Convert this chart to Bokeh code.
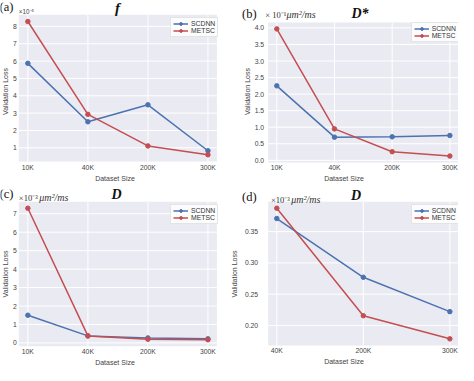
from bokeh.plotting import figure
from bokeh.models import Range1d, FixedTicker, Label, NumeralTickFormatter
from bokeh.layouts import gridplot
from bokeh.embed import file_html
from bokeh.resources import INLINE

# ---------------- data ----------------
sizes_4 = ["10K", "40K", "200K", "300K"]
sizes_3 = ["40K", "200K", "300K"]

f_scdnn = [5.87, 2.50, 3.48, 0.83]
f_metsc = [8.28, 2.93, 1.11, 0.60]
f_ticks = [1, 2, 3, 4, 5, 6, 7, 8]

dstar_scdnn = [2.25, 0.70, 0.71, 0.75]
dstar_metsc = [3.97, 0.95, 0.26, 0.13]
dstar_ticks = [0.0, 0.5, 1.0, 1.5, 2.0, 2.5, 3.0, 3.5, 4.0]

d_scdnn = [1.50, 0.38, 0.27, 0.22]
d_metsc = [7.30, 0.38, 0.20, 0.17]
d_ticks = [0, 1, 2, 3, 4, 5, 6, 7]

d2_scdnn = [0.371, 0.277, 0.222]
d2_metsc = [0.3875, 0.2155, 0.1785]
d2_ticks = [0.20, 0.25, 0.30, 0.35]

series_names = ["SCDNN", "METSC"]
x_label = "Dataset Size"
y_label = "Validation Loss"

# ---------------- style ----------------
BLUE = "#4C72B0"
RED = "#C44E52"
BG = "#EAEAF2"
SANS = "Liberation Sans"
SERIF = "Liberation Serif"
REF_W, REF_H = 474, 381
OUT_W, OUT_H = 458, 365
SX, SY = OUT_W / REF_W, OUT_H / REF_H


def panel(cats, s1, s2, yticks, fmt, pref, bref, texts, leg, lab_standoff, x_standoff):
    ox, oy, wr, hr = pref
    W, H = round(wr * SX), round(hr * SY)
    kx, ky = W / wr, H / hr
    bl, bt = (bref[0] - ox) * kx, (bref[1] - oy) * ky
    br, bb = (bref[2] - ox) * kx, (bref[3] - oy) * ky

    n = len(cats)
    xs = list(range(n))
    lo, hi = min(s1 + s2), max(s1 + s2)
    pad = 0.05 * (hi - lo)
    xpad = 0.05 * (n - 1)
    x0, x1 = -xpad, n - 1 + xpad
    y0, y1 = lo - pad, hi + pad
    dx = (x1 - x0) / (br - bl)
    dy = (y1 - y0) / (bb - bt)
    xr = Range1d(x0 - bl * dx, x1 + (W - br) * dx)
    yr = Range1d(y0 - (H - bb) * dy, y1 + bt * dy)

    def X(rx):
        return xr.start + (rx - ox) * kx * dx

    def Y(ry):
        return yr.end - (ry - oy) * ky * dy

    p = figure(width=W, height=H, output_backend="svg", toolbar_location=None,
               x_range=xr, y_range=yr, min_border=0)
    p.background_fill_color = "white"
    p.border_fill_color = "white"
    p.outline_line_color = None
    p.grid.visible = False

    # plot area background and white grid
    p.quad(left=[x0], right=[x1], bottom=[y0], top=[y1], fill_color=BG, line_color=None)
    p.segment(x0=xs, x1=xs, y0=[y0] * n, y1=[y1] * n, line_color="white", line_width=1)
    p.segment(x0=[x0] * len(yticks), x1=[x1] * len(yticks), y0=yticks, y1=yticks,
              line_color="white", line_width=1)

    p.xaxis.ticker = FixedTicker(ticks=xs)
    p.xaxis.major_label_overrides = {i: c for i, c in enumerate(cats)}
    p.xaxis.fixed_location = y0
    p.yaxis.ticker = FixedTicker(ticks=yticks)
    p.yaxis.fixed_location = x0
    if fmt:
        p.yaxis.formatter = NumeralTickFormatter(format=fmt)
    for ax in (p.xaxis[0], p.yaxis[0]):
        ax.axis_line_color = None
        ax.major_tick_line_color = None
        ax.minor_tick_line_color = None
        ax.major_tick_out = 0
        ax.major_tick_in = 0
        ax.major_label_text_font = SANS
        ax.major_label_text_font_size = "6.8px"
        ax.major_label_text_color = "#444444"
        ax.axis_label_text_font = SANS
        ax.axis_label_text_font_size = "7px"
        ax.axis_label_text_font_style = "normal"
        ax.axis_label_text_color = "#444444"
    p.xaxis.major_label_standoff = x_standoff
    p.xaxis.axis_label_standoff = 0
    p.yaxis.major_label_standoff = lab_standoff[0]
    p.yaxis.axis_label_standoff = lab_standoff[1]
    p.xaxis.axis_label = x_label
    p.yaxis.axis_label = y_label

    p.line(xs, s1, color=BLUE, line_width=1.5, legend_label=series_names[0])
    p.scatter(xs, s1, color=BLUE, size=4.5, legend_label=series_names[0])
    p.line(xs, s2, color=RED, line_width=1.5, legend_label=series_names[1])
    p.scatter(xs, s2, color=RED, size=4.5, legend_label=series_names[1])

    lg = p.legend[0]
    lg.location = ((leg[0] - ox) * kx, H - (leg[1] - oy) * ky)
    lg.label_text_font = SANS
    lg.label_text_font_size = "6.8px"
    lg.label_text_color = "#333333"
    lg.glyph_width = 15
    lg.glyph_height = 7
    lg.label_height = 7
    lg.label_standoff = 3
    lg.padding = 2
    lg.spacing = 0
    lg.margin = 0
    lg.background_fill_color = "white"
    lg.background_fill_alpha = 0.85
    lg.border_line_color = "#cccccc"

    for t in texts:
        text, rx, ry, align, font, size, style, color = t
        p.add_layout(Label(x=X(rx), y=Y(ry), text=text, text_align=align,
                           text_baseline="middle", text_font=font, text_font_size=size,
                           text_font_style=style, text_color=color))
    return p


pa = panel(sizes_4, f_scdnn, f_metsc, f_ticks, None, (0, 0, 237, 190), (19, 15, 224, 168),
           [("(a)", -1, 7, "left", SERIF, "12.5px", "normal", "#111111"),
            ("f", 121, 7.5, "center", SERIF, "15px", "bold italic", "#111111"),
            ("×10⁻⁵", 19, 11.5, "left", SANS, "6.3px", "normal", "#444444")],
           (176, 39), (2, 1), 3)
pb = panel(sizes_4, dstar_scdnn, dstar_metsc, dstar_ticks, "0.0", (237, 0, 237, 190), (277, 23, 474, 169),
           [("(b)", 250, 14, "left", SERIF, "12.5px", "normal", "#111111"),
            ("D*", 372, 14, "center", SERIF, "14px", "bold italic", "#111111"),
            ("× 10⁻¹", 274, 15, "left", SERIF, "8.5px", "normal", "#333333"),
            ("μm²/ms", 296, 15, "left", SERIF, "10px", "italic", "#333333")],
           (425, 44), (4, 1), 2)
pc = panel(sizes_4, d_scdnn, d_metsc, d_ticks, None, (0, 190, 237, 191), (19, 210, 224, 361),
           [("(c)", -1, 202, "left", SERIF, "12.5px", "normal", "#111111"),
            ("D", 120, 203, "center", SERIF, "14px", "bold italic", "#111111"),
            ("×10⁻³", 19, 206, "left", SERIF, "8.5px", "normal", "#333333"),
            ("μm²/ms", 40, 206, "left", SERIF, "10px", "italic", "#333333")],
           (176, 234), (2, 1), 2)
pd_ = panel(sizes_3, d2_scdnn, d2_metsc, d2_ticks, "0.00", (237, 190, 237, 191), (277, 210, 474, 360),
            [("(d)", 250, 205, "left", SERIF, "12.5px", "normal", "#111111"),
             ("D", 368, 204, "center", SERIF, "14px", "bold italic", "#111111"),
             ("×10⁻³", 280, 208, "left", SERIF, "8.5px", "normal", "#333333"),
             ("μm²/ms", 301, 208, "left", SERIF, "10px", "italic", "#333333")],
            (425, 234), (10, 4), 2)

grid = gridplot([[pa, pb], [pc, pd_]], toolbar_location=None)

open("out.html", "w").write(file_html(grid, INLINE))
